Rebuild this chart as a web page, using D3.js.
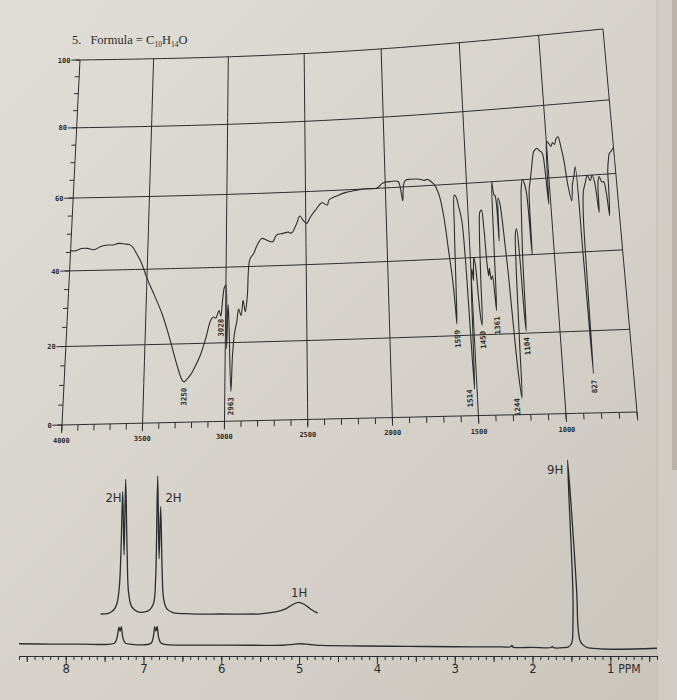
<!DOCTYPE html>
<html>
  <head>
    <title>Formula C10H14O - IR and 1H NMR</title>
    <style>
      body,
      html {
        margin: 0;
        padding: 0;
        background: #d6d2ca;
      }

      svg {
        display: block;
      }
    </style>
  </head>
  <body>
    <svg id="svg" width="677" height="700"></svg>
    <script src="https://cdn.jsdelivr.net/npm/d3@7"></script>
    <script>
      // IR trace: wavenumber (cm-1) and %T
      const irWavenumber = [
        4000, 3970, 3930, 3890, 3850, 3800, 3760, 3724, 3690, 3650, 3622, 3600,
        3570, 3541, 3500, 3450, 3398, 3350, 3316, 3285, 3262, 3250, 3235, 3214,
        3185, 3153, 3120, 3092, 3075, 3061, 3041, 3030, 3020, 3010, 3000, 2992,
        2984, 2963, 2955, 2945, 2930, 2919, 2904, 2892, 2878, 2866, 2851, 2827,
        2806, 2776, 2745, 2708, 2684, 2644, 2610, 2590, 2560, 2537, 2515, 2494,
        2470, 2440, 2397, 2364, 2353, 2300, 2246, 2190, 2138, 2090, 2052, 2015,
        1966, 1920, 1905, 1895, 1887, 1875, 1840, 1788, 1757, 1737, 1715, 1696,
        1680, 1666, 1650, 1640, 1628, 1617, 1610, 1604, 1599, 1594, 1587, 1578,
        1568, 1556, 1540, 1530, 1522, 1514, 1508, 1500, 1494, 1488, 1480, 1472,
        1464, 1456, 1450, 1444, 1436, 1428, 1418, 1410, 1402, 1396, 1390, 1382,
        1374, 1366, 1361, 1354, 1346, 1338, 1330, 1322, 1314, 1305, 1292, 1280,
        1268, 1256, 1244, 1238, 1230, 1222, 1214, 1206, 1200, 1195, 1189, 1180,
        1170, 1160, 1150, 1140, 1131, 1124, 1114, 1100, 1081, 1070, 1060, 1045,
        1030, 1020, 1012, 1005, 997, 985, 974, 964, 952, 940, 928, 914, 904, 888,
        874, 862, 850, 838, 832, 827, 820, 812, 800, 786, 770, 755, 742, 730,
        718, 710, 700, 688, 676, 666, 658, 650, 646, 636, 628, 616, 600,
      ];
      const irTransmittance = [
        45.5, 45.4, 46, 46, 45.6, 46.5, 46.8, 46.8, 47.2, 47, 46.8, 46.2,
        44.2, 42, 37.6, 33, 28, 22, 17.2, 13, 10.6, 10.2, 10.8, 11.8,
        14, 17, 21.5, 26, 26.8, 26.5, 28.5, 27, 31, 34.5, 35.2, 18.5,
        30, 7.5, 16.6, 22, 25.5, 28.7, 27, 31, 28, 32, 42, 43.5,
        45.7, 47.5, 47, 46.5, 48.3, 48.7, 49, 48.7, 51, 53.3, 52, 51.2,
        53, 54.7, 56.7, 56, 57.4, 58.5, 59.3, 59.7, 60, 60, 60.1, 61.4,
        61.7, 61.6, 59, 56.2, 60.5, 61.8, 62, 61.9, 61.5, 61.7, 61, 60.1,
        58.5, 56.4, 52, 48, 42, 37, 33, 28, 23, 32, 48, 57,
        56.5, 54, 50, 40, 22, 6.5, 20, 35, 37, 34, 40, 38,
        30, 24, 22.5, 35, 48, 52, 52.5, 48, 38, 35, 37, 34,
        35, 30, 26, 45, 60, 56.5, 56, 44, 55.5, 54, 46, 36,
        22, 10, 4, 18, 38, 46, 47, 40, 25, 20.5, 38, 50,
        58, 60, 59, 56, 40, 57, 59.5, 63, 67.4, 68, 68.3, 67.5,
        66.9, 62, 53, 66, 70, 69.2, 68.5, 69.5, 69, 70.5, 71, 68, 65, 57,
        53.5, 58, 60, 62.5, 40, 9.5, 32, 50, 56, 58, 60, 58.5, 60, 58,
        50, 58, 59.5, 58, 58, 55, 49, 56, 61, 64, 65.5, 66, 67,
      ];
      const irPeakLabels = ['3250', '3028', '2963', '1599', '1514', '1450', '1361', '1244', '1104', '827'];
      const irPeakAt = [3250, 3028, 2963, 1599, 1514, 1450, 1361, 1244, 1195, 827];
      const irYTicks = [0, 20, 40, 60, 80, 100];
      const irXLabels = [4000, 3500, 3000, 2500, 2000, 1500, 1000];

      // 1H NMR, main trace and the vertically expanded trace above it
      const nmrPpm = [
        8.6, 8.2, 7.8, 7.45, 7.37, 7.34, 7.315, 7.3, 7.285, 7.265, 7.235, 7.15,
        6.95, 6.9, 6.875, 6.855, 6.84, 6.825, 6.805, 6.775, 6.7, 6.3, 5.6, 5.2,
        5.08, 4.98, 4.86, 4.7, 4.2, 3.6, 3.0, 2.4, 2.28, 2.265, 2.25, 2.0, 1.76,
        1.745, 1.73, 1.6, 1.54, 1.505, 1.488, 1.481, 1.481, 1.55, 1.432, 1.415,
        1.39, 1.36, 1.3, 0.4,
      ];
      const nmrIntensity = [
        1.2, 1.0, 1.0, 0.9, 1.6, 4.5, 10.2, 8.0, 10.4, 4.5, 1.6, 0.9,
        0.8, 1.6, 4.5, 10.3, 8.0, 10.5, 4.5, 1.6, 0.7, 0.5, 0.4, 0.4,
        0.9, 1.2, 0.8, 0.3, 0.0, -0.2, -0.4, -0.5, -0.4, 0.3, -0.6, -0.7, -0.8,
        -0.2, -0.9, -0.9, -0.5, 0.8, 3, 10, 29, 100, 29, 10,
        3, 1, -0.8, -1.2,
      ];
      const nmrExpPpm = [
        7.55, 7.45, 7.38, 7.34, 7.31, 7.29, 7.267, 7.25, 7.229, 7.21, 7.19, 7.15,
        7.08, 6.98, 6.92, 6.87, 6.845, 6.817, 6.8, 6.779, 6.76, 6.74, 6.7, 6.62,
        6.4, 6.0, 5.5, 5.3, 5.18, 5.08, 5.01, 4.93, 4.85, 4.76,
      ];
      const nmrExpIntensity = [
        17.2, 17.6, 19.5, 23, 32, 50, 83, 49, 89.6, 50, 28, 21,
        18.5, 18.3, 19.5, 23, 35, 91.4, 47, 74.9, 40, 25, 20, 18,
        17.3, 17.2, 17.3, 18.3, 19.8, 22.3, 23.5, 22.3, 19.8, 17.7,
      ];
      const nmrLabels = ['2H', '2H', '1H', '9H'];
      const nmrLabelPpm = [7.385, 6.614, 5.0, 1.71];
      const nmrLabelIntensity = [77.4, 77.4, 26.3, 92.5];
      const nmrTicks = [8, 7, 6, 5, 4, 3, 2, 1];

      const width = 677;
      const height = 700;
      const ink = '#2c2c2c';
      const monoFont = "'DejaVu Sans Mono', 'Liberation Mono', monospace";
      const plotFont = "'DejaVu Sans Condensed', 'DejaVu Sans', sans-serif";

      const svg = d3.select('#svg');

      // paper of the photographed page
      const grad = svg
        .append('defs')
        .append('linearGradient')
        .attr('id', 'paper')
        .attr('x1', 0)
        .attr('y1', 0)
        .attr('x2', 1)
        .attr('y2', 1);
      grad.append('stop').attr('offset', '0%').attr('stop-color', '#e0ddd7');
      grad.append('stop').attr('offset', '55%').attr('stop-color', '#d6d2ca');
      grad.append('stop').attr('offset', '100%').attr('stop-color', '#cac5bb');
      svg.append('rect').attr('width', width).attr('height', height).attr('fill', 'url(#paper)');
      svg.append('rect').attr('x', 657).attr('width', 20).attr('height', height).attr('fill', '#d1ccc4');
      svg.append('line').attr('x1', 657).attr('x2', 657).attr('y1', 0).attr('y2', height).attr('stroke', '#c2bcb3');
      svg.append('rect').attr('x', 672).attr('width', 5).attr('height', 470).attr('fill', '#9c958b').attr('opacity', 0.45);

      // title
      const title = svg
        .append('text')
        .attr('x', 72)
        .attr('y', 44)
        .attr('font-family', "'Liberation Serif', 'Times New Roman', serif")
        .attr('font-size', 12.5)
        .attr('fill', ink);
      title.append('tspan').text('5.');
      title.append('tspan').attr('dx', 9).text('Formula = C');
      title.append('tspan').attr('font-size', 7.5).attr('dy', 3).text('10');
      title.append('tspan').attr('dy', -3).text('H');
      title.append('tspan').attr('font-size', 7.5).attr('dy', 3).text('14');
      title.append('tspan').attr('dy', -3).text('O');

      // ---------- IR: the page is photographed at an angle, so the chart
      // rectangle is mapped onto the quad seen in the picture
      function makeWarp(p00, p10, p11, p01) {
        const [x0, y0] = p00, [x1, y1] = p10, [x2, y2] = p11, [x3, y3] = p01;
        const dx1 = x1 - x2, dx2 = x3 - x2, dx3 = x0 - x1 + x2 - x3;
        const dy1 = y1 - y2, dy2 = y3 - y2, dy3 = y0 - y1 + y2 - y3;
        const den = dx1 * dy2 - dx2 * dy1;
        const g = (dx3 * dy2 - dx2 * dy3) / den;
        const h = (dx1 * dy3 - dx3 * dy1) / den;
        const a = x1 - x0 + g * x1, b = x3 - x0 + h * x3, c = x0;
        const d = y1 - y0 + g * y1, e = y3 - y0 + h * y3, f = y0;
        return (u, v) => {
          const w = g * u + h * v + 1;
          return [(a * u + b * v + c) / w, (d * u + e * v + f) / w];
        };
      }
      const warp = makeWarp([62, 425], [637, 412], [603, 29], [80, 60]);
      const bend = 7; // the sheet sags a little in the middle
      const irU = d3.scaleLinear().domain([4000, 600]).range([0, 1]);
      const irV = d3.scaleLinear().domain([0, 100]).range([0, 1]);
      const project = (wn, t) => {
        const u = irU(wn), v = irV(t);
        const [x, y] = warp(u, v);
        return [x, y + bend * v * Math.sin(Math.PI * u)];
      };
      const irLookup = d3.scaleLinear().domain(irWavenumber).range(irTransmittance);

      const ir = svg.append('g');
      const straight = d3.line();

      // grid: vertical lines every 500 plus the right frame, horizontal every 20
      [...irXLabels, 600].forEach((wn) => {
        ir.append('path')
          .attr('d', straight(d3.range(-2, 101, 6).concat([100]).map((t) => project(wn, t))))
          .attr('fill', 'none')
          .attr('stroke', ink)
          .attr('stroke-width', 1);
      });
      irYTicks.forEach((t) => {
        ir.append('path')
          .attr('d', straight(d3.range(600, 4061, 85).concat([4060]).map((wn) => project(wn, t))))
          .attr('fill', 'none')
          .attr('stroke', ink)
          .attr('stroke-width', 1);
      });

      // minor ticks
      d3.range(600, 4001, 100).forEach((wn) => {
        ir.append('path')
          .attr('d', straight([project(wn, 0), project(wn, -1.5)]))
          .attr('stroke', ink)
          .attr('stroke-width', 1);
      });
      d3.range(0, 101, 5).forEach((t) => {
        ir.append('path')
          .attr('d', straight([project(4000, t), project(4030, t)]))
          .attr('stroke', ink)
          .attr('stroke-width', 1);
      });

      // axis labels
      ir.selectAll('text.ylab')
        .data(irYTicks)
        .enter()
        .append('text')
        .attr('class', 'ylab')
        .attr('x', (t) => project(4065, t)[0])
        .attr('y', (t) => project(4065, t)[1])
        .attr('dy', '0.35em')
        .attr('text-anchor', 'end')
        .attr('font-family', monoFont)
        .attr('font-weight', 'bold')
        .attr('font-size', 7)
        .attr('fill', ink)
        .text((t) => t);
      ir.selectAll('text.xlab')
        .data(irXLabels)
        .enter()
        .append('text')
        .attr('class', 'xlab')
        .attr('x', (wn) => project(wn, -3.2)[0])
        .attr('y', (wn) => project(wn, -3.2)[1])
        .attr('dy', '0.7em')
        .attr('text-anchor', 'middle')
        .attr('font-family', monoFont)
        .attr('font-weight', 'bold')
        .attr('font-size', 7)
        .attr('fill', ink)
        .text((wn) => wn);

      // spectrum trace
      const irPoints = irWavenumber.map((wn, i) => project(wn, irTransmittance[i]));
      ir.append('path')
        .attr('d', d3.line().curve(d3.curveCatmullRom.alpha(0.5))(irPoints))
        .attr('fill', 'none')
        .attr('stroke', ink)
        .attr('stroke-width', 1.1)
        .attr('stroke-linejoin', 'round');

      // peak labels, written along the chart's vertical under each band
      irPeakLabels.forEach((label, i) => {
        const wn = irPeakAt[i];
        const t = irLookup(wn);
        const beside = t - 1.5 - 5.5 < 0;
        const anchorWn = beside ? wn + 30 : wn;
        const anchorT = beside ? t : t - 1.5;
        const [ax, ay] = project(anchorWn, anchorT);
        const [bx, by] = project(anchorWn, anchorT - 10);
        const angle = (Math.atan2(ay - by, ax - bx) * 180) / Math.PI;
        ir.append('text')
          .attr('transform', `translate(${ax},${ay}) rotate(${angle})`)
          .attr('dy', '0.35em')
          .attr('text-anchor', 'end')
          .attr('font-family', monoFont)
          .attr('font-weight', 'bold')
          .attr('font-size', 7.5)
          .attr('fill', ink)
          .text(label);
      });

      // ---------- 1H NMR
      const nmrX = d3.scaleLinear().domain([8.6, 0.4]).range([19, 657]);
      const nmrY = d3.scaleLinear().domain([0, 100]).range([646, 460]);
      const axisY = 656;
      const nmr = svg.append('g');

      const tickLayer = (values, size) =>
        d3.axisBottom(nmrX).tickValues(values).tickSize(size).tickSizeOuter(0).tickFormat('');
      nmr.append('g')
        .attr('transform', `translate(0, ${axisY})`)
        .attr('color', ink)
        .call(tickLayer(d3.range(4, 87).map((i) => i / 10), 4));
      nmr.append('g')
        .attr('transform', `translate(0, ${axisY})`)
        .attr('color', ink)
        .call(tickLayer(d3.range(0.5, 8.6, 1), 6));
      const majorAxis = nmr
        .append('g')
        .attr('transform', `translate(0, ${axisY})`)
        .attr('color', ink)
        .call(
          d3.axisBottom(nmrX).tickValues(nmrTicks).tickSize(8).tickSizeOuter(0).tickPadding(0).tickFormat(d3.format('d'))
        );
      majorAxis
        .selectAll('text')
        .attr('font-family', plotFont)
        .attr('font-stretch', 'condensed')
        .attr('font-size', 13)
        .attr('fill', ink);
      nmr.selectAll('.domain').attr('stroke-width', 1.2);
      nmr.append('text')
        .attr('x', nmrX(1) + 8)
        .attr('y', axisY + 8)
        .attr('dy', '0.71em')
        .attr('font-family', plotFont)
        .attr('font-stretch', 'condensed')
        .attr('font-size', 12)
        .attr('fill', ink)
        .text('PPM');

      const nmrLine = d3
        .line()
        .x((d) => nmrX(d[0]))
        .y((d) => nmrY(d[1]))
        .curve(d3.curveCatmullRom.alpha(0.5));
      nmr.append('path')
        .attr('d', nmrLine(nmrPpm.map((p, i) => [p, nmrIntensity[i]])))
        .attr('fill', 'none')
        .attr('stroke', ink)
        .attr('stroke-width', 1.3);
      nmr.append('path')
        .attr('d', nmrLine(nmrExpPpm.map((p, i) => [p, nmrExpIntensity[i]])))
        .attr('fill', 'none')
        .attr('stroke', ink)
        .attr('stroke-width', 1.3);

      nmr.selectAll('text.hlab')
        .data(nmrLabels)
        .enter()
        .append('text')
        .attr('class', 'hlab')
        .attr('x', (d, i) => nmrX(nmrLabelPpm[i]))
        .attr('y', (d, i) => nmrY(nmrLabelIntensity[i]))
        .attr('text-anchor', 'middle')
        .attr('font-family', plotFont)
        .attr('font-stretch', 'condensed')
        .attr('font-size', 13)
        .attr('fill', ink)
        .text((d) => d);
    </script>
  </body>
</html>
